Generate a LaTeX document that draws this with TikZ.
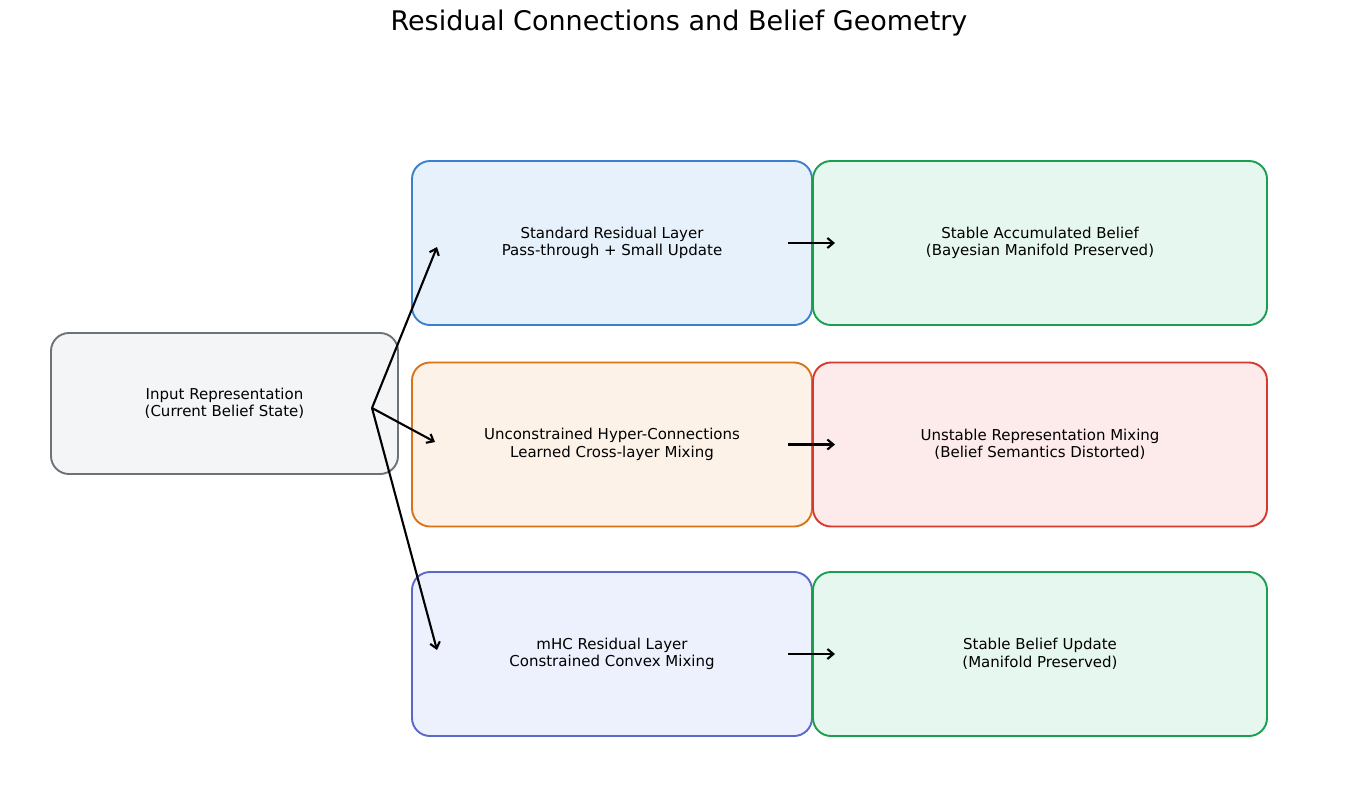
\documentclass[tikz,border=0pt]{standalone}
\usepackage{fontspec}
\setmainfont{DejaVu Sans}
\usetikzlibrary{arrows.meta}
\definecolor{grayB}{HTML}{6C7378}
\definecolor{grayF}{HTML}{F4F5F7}
\definecolor{blueB}{HTML}{3A7FD0}
\definecolor{blueF}{HTML}{E7F1FB}
\definecolor{greenB}{HTML}{1A9E50}
\definecolor{greenF}{HTML}{E6F7EF}
\definecolor{orangeB}{HTML}{D9731A}
\definecolor{orangeF}{HTML}{FDF2E7}
\definecolor{redB}{HTML}{D63A2F}
\definecolor{redF}{HTML}{FDEAEA}
\definecolor{indB}{HTML}{5B67C9}
\definecolor{indF}{HTML}{EDF0FD}
\tikzset{
  box/.style={draw, line width=1.9pt, rounded corners=18pt, align=center,
    font=\fontsize{15}{17.5}\selectfont, inner sep=0pt},
  leftbox/.style={box, minimum width=400pt, minimum height=164pt},
  rightbox/.style={box, minimum width=454pt, minimum height=164pt},
  arr/.style={line width=2.1pt, -{Straight Barb[length=6pt,width=10pt,line width=2.1pt]}}
}
\begin{document}
\begin{tikzpicture}[x=1pt,y=-1pt]
\useasboundingbox (0,0) rectangle (1358,807);
\node[font=\fontsize{27}{31}\selectfont] (title) at (679,23) {Residual Connections and Belief Geometry};

\node[box, draw=grayB, fill=grayF, minimum width=347pt, minimum height=141pt] (input) at (224.5,403.5)
  {Input Representation\\(Current Belief State)};

\node[leftbox, draw=blueB, fill=blueF] (std) at (612,243)
  {Standard Residual Layer\\Pass-through + Small Update};
\node[rightbox, draw=greenB, fill=greenF] (stable1) at (1040,243)
  {Stable Accumulated Belief\\(Bayesian Manifold Preserved)};

\node[leftbox, draw=orangeB, fill=orangeF] (hyper) at (612,444.5)
  {Unconstrained Hyper-Connections\\Learned Cross-layer Mixing};
\node[rightbox, draw=redB, fill=redF] (unstable) at (1040,444.5)
  {Unstable Representation Mixing\\(Belief Semantics Distorted)};

\node[leftbox, draw=indB, fill=indF] (mhc) at (612,654)
  {mHC Residual Layer\\Constrained Convex Mixing};
\node[rightbox, draw=greenB, fill=greenF] (stable2) at (1040,654)
  {Stable Belief Update\\(Manifold Preserved)};

\coordinate (src) at (372,408);
\coordinate (stdIn) at (437,247);
\coordinate (hyperIn) at (435,442);
\coordinate (mhcIn) at (437,650);
\coordinate (stdOut) at (788,243);
\coordinate (stable1In) at (835,243);
\coordinate (hyperOut) at (788,444.5);
\coordinate (unstableIn) at (835,444.5);
\coordinate (mhcOut) at (788,654);
\coordinate (stable2In) at (835,654);

\draw[arr] (src) -- (stdIn);
\draw[arr] (src) -- (hyperIn);
\draw[arr] (src) -- (mhcIn);
\draw[arr] (stdOut) -- (stable1In);
\draw[arr] (hyperOut) -- (unstableIn);
\draw[arr] (mhcOut) -- (stable2In);
\end{tikzpicture}
\end{document}
